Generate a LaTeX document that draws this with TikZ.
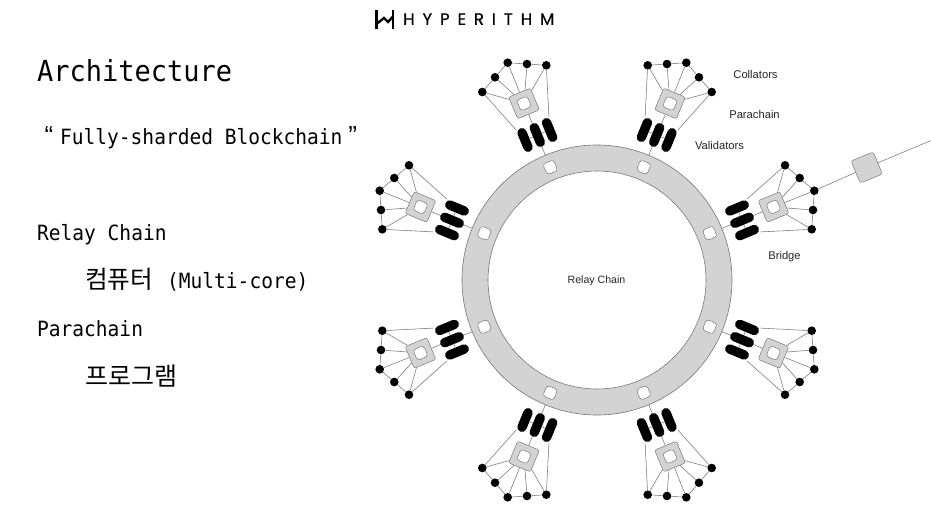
\documentclass[tikz,border=0pt]{standalone}
\usepackage{fontspec}
\setmainfont{Liberation Sans}
\newfontfamily\monof[FakeStretch=0.93]{DejaVu Sans Mono}
\newfontfamily\korf{Noto Sans CJK KR}
\newfontfamily\logof[LetterSpace=48,FakeBold=0.5]{Poppins}
\definecolor{ringgray}{HTML}{D3D3D3}
\definecolor{edgegray}{HTML}{777777}
\tikzset{
  hlabel/.style={inner sep=0pt,anchor=base west,text=black},
  small label/.style={inner sep=0pt,font=\fontsize{11.2}{12}\selectfont,text=black!85},
  link/.style={draw=edgegray,line width=0.55pt},
  dotnode/.style={circle,fill=black,inner sep=0pt,minimum size=8.6pt},
  pill/.style={rectangle,fill=black,rounded corners=4.5pt,inner sep=0pt,minimum width=25pt,minimum height=9.4pt,rotate=67.5,transform shape},
  collator/.style={rectangle,fill=ringgray,draw=edgegray,line width=0.5pt,rounded corners=2pt,inner sep=0pt,minimum size=23.5pt,rotate=67.5,transform shape},
  hole/.style={rectangle,fill=white,draw=edgegray,line width=0.5pt,rounded corners=3pt,inner sep=0pt,minimum size=11.5pt,rotate=67.5,transform shape},
  ringdisc/.style={circle,fill=ringgray,draw=edgegray,line width=0.6pt,inner sep=0pt,minimum size=270pt},
  holedisc/.style={circle,fill=white,draw=edgegray,line width=0.6pt,inner sep=0pt,minimum size=218pt},
}
\begin{document}
\begin{tikzpicture}[x=1pt,y=1pt]
\useasboundingbox (0,-517) rectangle (931,0);
\fill[white] (0,-517) rectangle (931,0);

% logo
\draw[black,line width=2.8pt] (376.5,-9.5) -- (376.5,-28.5);
\draw[black,line width=2.8pt] (393,-9.5) -- (393,-28.5);
\draw[black,line width=2.4pt,line join=miter] (376.5,-24) -- (384,-18) -- (388,-22) -- (393,-16.5);
\node[hlabel] (logo) at (403,-24.8) {\logof\fontsize{16.5}{16}\selectfont HYPERITHM};

% left texts
\node[hlabel] (title) at (37,-81.5) {\monof\fontsize{29}{30}\selectfont Architecture};
\node[hlabel] (quote) at (44.5,-144.7) {\makebox[15.5pt][l]{\fontsize{26}{26}\selectfont “}\monof\fontsize{21}{24}\selectfont Fully-sharded Blockchain\hspace{6pt}\normalfont\fontsize{26}{26}\selectfont ”};
\node[hlabel] (rc) at (37,-240.7) {\monof\fontsize{21}{24}\selectfont Relay Chain};
\node[hlabel] (pc) at (37,-336.7) {\monof\fontsize{21}{24}\selectfont Parachain};
\node[hlabel] (kor1) at (85,-288.3) {\makebox[82pt][l]{\korf\fontsize{24.6}{26}\selectfont 컴퓨터}\monof\fontsize{21}{24}\selectfont (Multi-core)};
\node[hlabel] (kor2) at (85,-385) {\korf\fontsize{25}{26}\selectfont 프로그램};

% ring
\node[ringdisc] (outer) at (597,-280) {};
\node[holedisc] (inner) at (597,-280) {};
\node[small label,font=\fontsize{10.6}{12}\selectfont] (relay) at (596.5,-280.8) {Relay Chain};

% parachain units, one per reflection of the ring
\foreach \ma/\mb/\mc/\md/\n in {1/0/0/1/A,-1/0/0/1/B,1/0/0/-1/C,-1/0/0/-1/D,0/1/1/0/E,0/-1/1/0/F,0/1/-1/0/G,0/-1/-1/0/H}{
\begin{scope}[cm={\ma,\mb,\mc,\md,(597,-280)}]
  \node[hole] (\n port) at (46.7,112.7) {};
  \coordinate (\n edge) at (51.7,124.7);
  \node[collator] (\n sq) at (73,176.5) {};
  \node[hole] (\n hole) at (73,176.5) {};
  \node[pill] (\n v1) at (47.4,150) {};
  \node[pill] (\n v2) at (59.7,145) {};
  \node[pill] (\n v3) at (72,140) {};
  \node[dotnode] (\n d1) at (50.7,214.7) {};
  \node[dotnode] (\n d2) at (70,216) {};
  \node[dotnode] (\n d3) at (89.3,217.3) {};
  \node[dotnode] (\n d4) at (102,202.7) {};
  \node[dotnode] (\n d5) at (114.7,188) {};
  \draw[link] (\n d1) -- (\n d2) -- (\n d3) -- (\n d4) -- (\n d5);
  \foreach \k in {1,...,5}{\draw[link] (\n sq) -- (\n d\k);}
  \draw[link] (\n d1) -- (\n v1);
  \draw[link] (\n d5) -- (\n v3);
  \draw[link] (\n v1) -- (\n v2) -- (\n v3);
  \draw[link] (\n sq) -- (\n v2);
  \draw[link] (\n v2) -- (\n edge);
\end{scope}
}

% bridge
\node[rectangle,fill=ringgray,draw=edgegray,line width=0.5pt,rounded corners=2.5pt,inner sep=0pt,minimum size=24pt,rotate=22.5] (bridge) at (866.7,-167.5) {};
\coordinate (off) at (931,-140.5);
\draw[link] (Ed3) -- (bridge);
\draw[link] (bridge) -- (off);

% labels
\node[small label] (l1) at (755.5,-74.6) {Collators};
\node[small label] (l2) at (754.5,-114.3) {Parachain};
\node[small label] (l3) at (719.5,-145.3) {Validators};
\node[small label] (l4) at (784.5,-256.8) {Bridge};
\end{tikzpicture}
\end{document}
